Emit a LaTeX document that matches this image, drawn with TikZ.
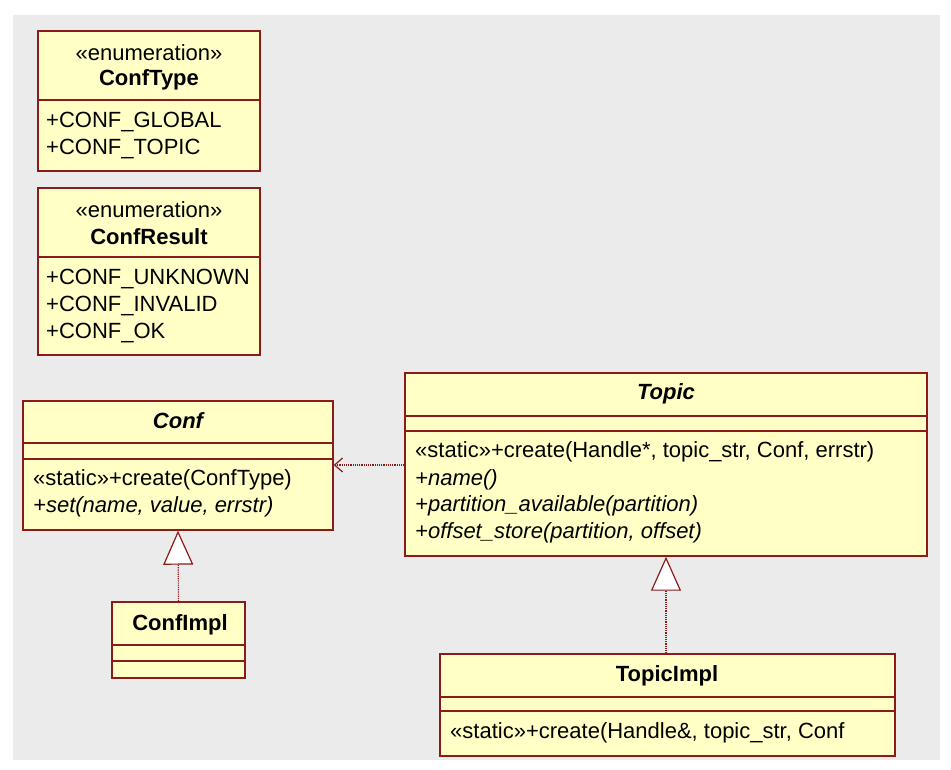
\documentclass[tikz,border=0pt]{standalone}
\usepackage{fontspec}
\setmainfont{Liberation Sans}
\usetikzlibrary{arrows.meta}
\definecolor{umlfill}{HTML}{FFFFC6}
\definecolor{umlline}{HTML}{8B1A1A}
\definecolor{umlbg}{HTML}{EBEBEB}
\newcommand{\stl}{\textless\textless}
\newcommand{\stg}{\textgreater\textgreater}
\begin{document}
\begin{tikzpicture}[x=1pt,y=-1pt,
    cls/.style={draw=umlline,fill=umlfill,line width=1.4pt,inner sep=0pt},
    txt/.style={anchor=west,inner sep=0pt,font=\fontsize{22}{24}\selectfont},
    ttl/.style={inner sep=0pt,font=\fontsize{22}{24}\selectfont\bfseries},
    sep/.style={draw=umlline,line width=1.2pt},
    dep/.style={draw=umlline,densely dotted,line width=1.2pt,-{Straight Barb[length=8pt,width=14pt,line width=1.2pt]}},
    real/.style={draw=umlline,densely dotted,line width=1.2pt,-{Triangle[open,fill=white,length=34pt,width=30pt,line width=1.2pt]}}]
  \useasboundingbox (0,0) rectangle (951,770);
  \fill[umlbg] (13,15) rectangle (940,760);

  % ConfType
  \node[cls,minimum width=222,minimum height=140] (conftype) at (149,101) {};
  \draw[sep] (38,100) -- (260,100);
  \node[inner sep=0pt,font=\fontsize{22}{24}\selectfont] (ctstereo) at (149,53) {\stl enumeration\stg};
  \node[ttl] (cttitle) at (149,80) {ConfType};
  \node[txt] (ct1) at (46,122) {+CONF\_GLOBAL};
  \node[txt] (ct2) at (46,149) {+CONF\_TOPIC};

  % ConfResult
  \node[cls,minimum width=222,minimum height=167] (confresult) at (149,271.5) {};
  \draw[sep] (38,257) -- (260,257);
  \node[inner sep=0pt,font=\fontsize{22}{24}\selectfont] (crstereo) at (149,210) {\stl enumeration\stg};
  \node[ttl] (crtitle) at (149,237) {ConfResult};
  \node[txt] (cr1) at (46,279) {+CONF\_UNKNOWN};
  \node[txt] (cr2) at (46,306) {+CONF\_INVALID};
  \node[txt] (cr3) at (46,333) {+CONF\_OK};

  % Conf
  \node[cls,minimum width=310,minimum height=129] (conf) at (178,465.5) {};
  \draw[sep] (23,443) -- (333,443);
  \draw[sep] (23,459) -- (333,459);
  \node[ttl,font=\fontsize{22}{24}\selectfont\bfseries\itshape] (conftitle) at (178,421) {Conf};
  \node[txt] (cf1) at (33,480) {\stl static\stg+create(ConfType)};
  \node[txt,font=\fontsize{22}{24}\selectfont\itshape] (cf2) at (33,507) {+set(name, value, errstr)};

  % Topic
  \node[cls,minimum width=522,minimum height=183] (topic) at (666,464.5) {};
  \draw[sep] (405,416) -- (927,416);
  \draw[sep] (405,431) -- (927,431);
  \node[ttl,font=\fontsize{22}{24}\selectfont\bfseries\itshape] (topictitle) at (666,394) {Topic};
  \node[txt] (tp1) at (415,452) {\stl static\stg+create(Handle*, topic\_str, Conf, errstr)};
  \node[txt,font=\fontsize{22}{24}\selectfont\itshape] (tp2) at (415,480) {+name()};
  \node[txt,font=\fontsize{22}{24}\selectfont\itshape] (tp3) at (415,506) {+partition\_available(partition)};
  \node[txt,font=\fontsize{22}{24}\selectfont\itshape] (tp4) at (415,533) {+offset\_store(partition, offset)};

  % ConfImpl
  \node[cls,minimum width=133,minimum height=76] (confimpl) at (178.5,640) {};
  \draw[sep] (112,645) -- (245,645);
  \draw[sep] (112,661) -- (245,661);
  \node[ttl] (cititle) at (180,625) {ConfImpl};

  % TopicImpl
  \node[cls,minimum width=455,minimum height=102] (topicimpl) at (667.5,705) {};
  \draw[sep] (440,697) -- (895,697);
  \draw[sep] (440,711) -- (895,711);
  \node[ttl] (tititle) at (667,676) {TopicImpl};
  \node[txt] (ti1) at (450,733) {\stl static\stg+create(Handle\&, topic\_str, Conf};

  % relations
  \draw[dep] (topic.west |- 0,465) -- (conf.east |- 0,465);
  \draw[real] (confimpl.north) -- (conf.south);
  \draw[real] (topicimpl.north -| topic.south) -- (topic.south);
\end{tikzpicture}
\end{document}
